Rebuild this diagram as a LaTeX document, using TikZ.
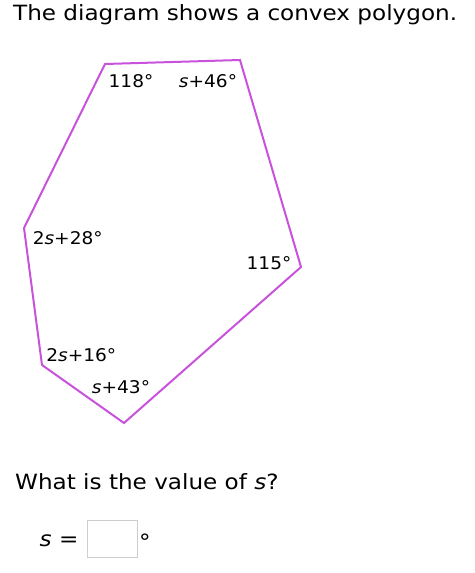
\documentclass[tikz,border=0pt]{standalone}
\usepackage{fontspec}
\setmainfont{DejaVu Sans}
\definecolor{poly}{RGB}{200,82,220}
\definecolor{boxgray}{RGB}{205,205,205}
\begin{document}
\begin{tikzpicture}[x=1pt,y=-1pt,
  lbl/.style={font=\fontsize{17.5}{20}\selectfont\addfontfeature{FakeStretch=1.06}, inner sep=0pt},
  title/.style={font=\fontsize{21}{25}\selectfont\addfontfeature{FakeStretch=1.1}, inner sep=0pt, anchor=base west}]
\useasboundingbox (0,0) rectangle (474,573);
\coordinate (A) at (105,64);
\coordinate (B) at (240,60);
\coordinate (C) at (301,267);
\coordinate (D) at (124,423);
\coordinate (E) at (42,365);
\coordinate (F) at (24,228);
\draw[poly, line width=2pt, line join=miter] (A) -- (B) -- (C) -- (D) -- (E) -- (F) -- cycle;
\node[title] (t1) at (13,20) {The diagram shows a convex polygon.};
\node[lbl] (a1) at (131,81) {118°};
\node[lbl] (a2) at (208,81) {\textit{s}+46°};
\node[lbl] (a3) at (67.7,238.5) {2\textit{s}+28°};
\node[lbl] (a4) at (269,263) {115°};
\node[lbl] (a5) at (81.3,355) {2\textit{s}+16°};
\node[lbl] (a6) at (121,386.7) {\textit{s}+43°};
\node[title] (t2) at (15,489) {What is the value of \textit{s}?};
\node[title, anchor=center] (eq) at (59,541) {\textit{s} =};
\draw[boxgray, line width=1pt] (87.5,520) rectangle (137.5,557);
\node[title, anchor=base] (deg) at (145,549.7) {°};
\end{tikzpicture}
\end{document}
